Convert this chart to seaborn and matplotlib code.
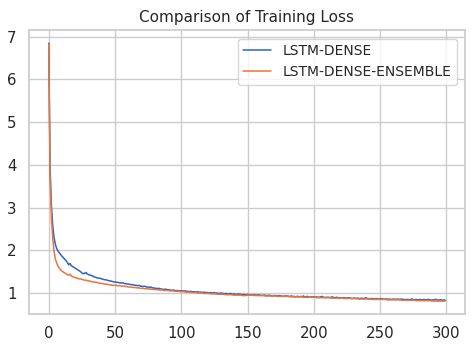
import numpy as np
import pandas as pd
import seaborn as sns
import matplotlib
matplotlib.use("Agg")
import matplotlib.pyplot as plt

# Per-epoch training loss for the two models
lstm_dense = [
    6.85, 3.95, 3.05, 2.58, 2.30, 2.14, 2.04, 1.98, 1.94, 1.90,
    1.86, 1.83, 1.79, 1.76, 1.72, 1.66, 1.69, 1.64, 1.62, 1.60,
    1.58, 1.56, 1.54, 1.52, 1.50, 1.47, 1.45, 1.46, 1.48, 1.45,
    1.43, 1.42, 1.41, 1.40, 1.38, 1.37, 1.36, 1.35, 1.35, 1.34,
    1.33, 1.32, 1.31, 1.31, 1.30, 1.29, 1.28, 1.28, 1.27, 1.26,
    1.26, 1.25, 1.25, 1.24, 1.24, 1.23, 1.24, 1.22, 1.22, 1.21,
    1.21, 1.20, 1.20, 1.19, 1.19, 1.18, 1.18, 1.17, 1.18, 1.16,
    1.16, 1.15, 1.16, 1.15, 1.14, 1.14, 1.13, 1.14, 1.12, 1.12,
    1.11, 1.11, 1.10, 1.11, 1.10, 1.09, 1.09, 1.08, 1.09, 1.08,
    1.08, 1.07, 1.07, 1.06, 1.07, 1.06, 1.05, 1.06, 1.05, 1.05,
    1.05, 1.05, 1.04, 1.05, 1.04, 1.04, 1.03, 1.04, 1.03, 1.03,
    1.03, 1.02, 1.03, 1.02, 1.02, 1.02, 1.01, 1.02, 1.01, 1.01,
    1.01, 1.00, 1.01, 1.00, 1.00, 1.01, 0.99, 1.00, 0.99, 0.99,
    1.00, 0.99, 0.99, 0.98, 0.99, 0.98, 0.98, 0.99, 0.98, 0.97,
    0.98, 0.97, 0.97, 0.98, 0.97, 0.97, 0.96, 0.97, 0.96, 0.96,
    0.97, 0.96, 0.96, 0.95, 0.96, 0.96, 0.95, 0.95, 0.96, 0.95,
    0.95, 0.94, 0.95, 0.95, 0.94, 0.94, 0.95, 0.94, 0.94, 0.93,
    0.94, 0.94, 0.93, 0.93, 0.94, 0.93, 0.93, 0.92, 0.93, 0.93,
    0.93, 0.92, 0.92, 0.93, 0.92, 0.92, 0.91, 0.92, 0.92, 0.91,
    0.92, 0.91, 0.93, 0.91, 0.91, 0.92, 0.91, 0.90, 0.91, 0.91,
    0.91, 0.90, 0.91, 0.90, 0.90, 0.91, 0.92, 0.90, 0.90, 0.89,
    0.90, 0.90, 0.89, 0.90, 0.91, 0.89, 0.89, 0.90, 0.89, 0.89,
    0.89, 0.88, 0.89, 0.89, 0.88, 0.88, 0.89, 0.88, 0.88, 0.87,
    0.88, 0.88, 0.87, 0.88, 0.87, 0.87, 0.88, 0.87, 0.87, 0.89,
    0.87, 0.87, 0.86, 0.87, 0.87, 0.86, 0.86, 0.87, 0.86, 0.86,
    0.86, 0.87, 0.86, 0.85, 0.86, 0.86, 0.85, 0.86, 0.85, 0.85,
    0.86, 0.85, 0.85, 0.86, 0.85, 0.85, 0.86, 0.85, 0.85, 0.84,
    0.85, 0.85, 0.84, 0.85, 0.86, 0.84, 0.84, 0.85, 0.84, 0.84,
    0.85, 0.84, 0.84, 0.85, 0.84, 0.84, 0.85, 0.84, 0.84, 0.83,
    0.84, 0.84, 0.85, 0.84, 0.83, 0.84, 0.84, 0.83, 0.84, 0.83,
]

lstm_dense_ensemble = [
    6.82, 3.70, 2.78, 2.28, 1.98, 1.80, 1.70, 1.63, 1.58, 1.54,
    1.51, 1.49, 1.47, 1.45, 1.43, 1.42, 1.44, 1.40, 1.38, 1.37,
    1.36, 1.35, 1.34, 1.33, 1.33, 1.32, 1.31, 1.30, 1.30, 1.29,
    1.28, 1.28, 1.27, 1.26, 1.26, 1.25, 1.25, 1.24, 1.23, 1.23,
    1.22, 1.22, 1.21, 1.21, 1.20, 1.20, 1.19, 1.19, 1.18, 1.18,
    1.18, 1.18, 1.17, 1.17, 1.17, 1.16, 1.16, 1.16, 1.15, 1.15,
    1.14, 1.14, 1.14, 1.13, 1.13, 1.13, 1.12, 1.12, 1.12, 1.11,
    1.11, 1.11, 1.10, 1.10, 1.10, 1.10, 1.09, 1.09, 1.09, 1.08,
    1.08, 1.08, 1.08, 1.07, 1.07, 1.07, 1.07, 1.06, 1.06, 1.06,
    1.06, 1.05, 1.05, 1.05, 1.05, 1.04, 1.04, 1.04, 1.04, 1.03,
    1.03, 1.03, 1.03, 1.02, 1.02, 1.02, 1.02, 1.02, 1.01, 1.01,
    1.01, 1.01, 1.00, 1.00, 1.00, 1.00, 1.00, 0.99, 0.99, 0.99,
    0.99, 0.99, 0.98, 0.98, 0.98, 0.98, 0.98, 0.97, 0.97, 0.97,
    0.97, 0.97, 0.97, 0.96, 0.96, 0.96, 0.96, 0.96, 0.96, 0.95,
    0.95, 0.95, 0.95, 0.95, 0.95, 0.95, 0.94, 0.94, 0.94, 0.94,
    0.95, 0.95, 0.95, 0.95, 0.95, 0.94, 0.94, 0.94, 0.94, 0.94,
    0.94, 0.94, 0.94, 0.93, 0.93, 0.93, 0.93, 0.93, 0.93, 0.93,
    0.93, 0.93, 0.92, 0.92, 0.92, 0.92, 0.92, 0.92, 0.92, 0.92,
    0.92, 0.92, 0.91, 0.91, 0.91, 0.91, 0.91, 0.91, 0.91, 0.91,
    0.91, 0.91, 0.90, 0.90, 0.90, 0.90, 0.90, 0.90, 0.90, 0.90,
    0.90, 0.90, 0.89, 0.89, 0.89, 0.89, 0.89, 0.89, 0.89, 0.89,
    0.89, 0.89, 0.89, 0.88, 0.88, 0.88, 0.88, 0.88, 0.88, 0.88,
    0.88, 0.88, 0.88, 0.87, 0.87, 0.87, 0.87, 0.87, 0.87, 0.87,
    0.87, 0.87, 0.87, 0.86, 0.86, 0.86, 0.86, 0.86, 0.86, 0.86,
    0.86, 0.86, 0.86, 0.86, 0.85, 0.85, 0.85, 0.85, 0.85, 0.85,
    0.85, 0.85, 0.85, 0.85, 0.85, 0.84, 0.84, 0.84, 0.84, 0.84,
    0.84, 0.84, 0.84, 0.84, 0.84, 0.84, 0.83, 0.83, 0.83, 0.83,
    0.83, 0.83, 0.83, 0.83, 0.83, 0.83, 0.83, 0.82, 0.82, 0.82,
    0.82, 0.82, 0.82, 0.82, 0.82, 0.82, 0.82, 0.82, 0.82, 0.81,
    0.81, 0.81, 0.81, 0.81, 0.81, 0.81, 0.81, 0.81, 0.81, 0.81,
]

series_names = ["LSTM-DENSE", "LSTM-DENSE-ENSEMBLE"]
series_colors = ["#2f63c6", "#eb7536"]

epochs = np.arange(len(lstm_dense))
df = pd.DataFrame({
    "epoch": np.concatenate([epochs, epochs]),
    "loss": lstm_dense + lstm_dense_ensemble,
    "model": [series_names[0]] * len(lstm_dense) + [series_names[1]] * len(lstm_dense_ensemble),
})

sns.set_theme(style="whitegrid")
plt.rcParams["font.family"] = ["DejaVu Sans"]

fig = plt.figure(figsize=(4.74, 3.46), dpi=100)
ax = fig.add_axes([0.061, 0.0925, 0.92, 0.82])

sns.lineplot(data=df, x="epoch", y="loss", hue="model", hue_order=series_names,
             palette=dict(zip(series_names, series_colors)), linewidth=1.1, ax=ax)

ax.set_title("Comparison of Training Loss", fontsize=11, pad=6)
ax.set_xlabel("")
ax.set_ylabel("")
ax.tick_params(axis="both", labelsize=10.8, pad=3)
ax.set_xticks([0, 50, 100, 150, 200, 250, 300])
ax.legend(title=None, loc="upper right", fontsize=10, borderaxespad=0.6)

fig.savefig("out.png", dpi=100)
